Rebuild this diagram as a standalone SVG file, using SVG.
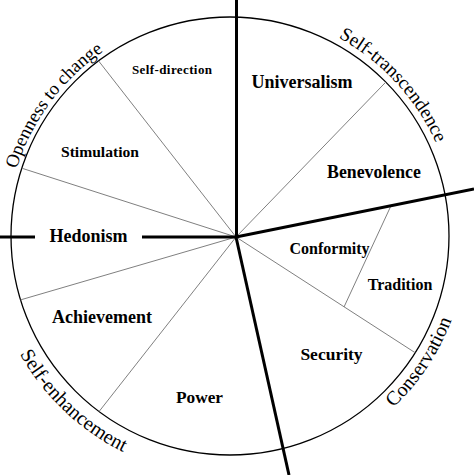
<svg xmlns="http://www.w3.org/2000/svg" width="474" height="475" viewBox="0 0 474 475">
<style>
.lbl{font-family:"Liberation Serif","Times New Roman",serif;font-weight:bold;fill:#000;text-anchor:middle}
.arc{font-family:"Liberation Serif","Times New Roman",serif;fill:#000}
.thin{stroke:#808080;stroke-width:1;fill:none}
.thick{stroke:#000;stroke-width:3;fill:none}
</style>
<defs>
<path id="pOpen" d="M7.69,210.67 A224,224 0 0 1 140.68,30.58"/>
<path id="pTrans" d="M296.83,20.11 A226,226 0 0 1 450.38,185.93"/>
<path id="pCons" d="M335.38,448.28 A237,237 0 0 0 466.53,250.88"/>
<path id="pEnh" d="M-1.08,304.45 A241,241 0 0 0 173.74,470.34"/>
</defs>
<rect width="474" height="475" fill="#fff"/>
<circle cx="230" cy="236" r="219" fill="none" stroke="#000" stroke-width="1.3"/>
<g id="connectors">
<line class="thin" x1="236" y1="237" x2="98.5" y2="60.8"/>
<line class="thin" x1="236" y1="237" x2="21.8" y2="168.2"/>
<line class="thin" x1="236" y1="237" x2="385.8" y2="82.1"/>
<line class="thin" x1="236" y1="237" x2="20.5" y2="299.9"/>
<line class="thin" x1="236" y1="237" x2="99.1" y2="411.5"/>
<line class="thin" x1="236" y1="237" x2="415.3" y2="352.8"/>
<line class="thin" x1="391" y1="205.7" x2="344" y2="307"/>
<line class="thick" x1="236.5" y1="0" x2="236.5" y2="237"/>
<line class="thick" x1="236" y1="237" x2="474" y2="189"/>
<line class="thick" x1="236" y1="237" x2="289" y2="475"/>
<line class="thick" x1="0" y1="237" x2="35" y2="237"/>
<line class="thick" x1="142" y1="237" x2="237" y2="237"/>
</g>
<g id="self-direction"><text class="lbl" x="172" y="74" font-size="13" textLength="80" lengthAdjust="spacing">Self-direction</text></g>
<g id="stimulation"><text class="lbl" x="100" y="157" font-size="15.6">Stimulation</text></g>
<g id="hedonism"><text class="lbl" x="88.5" y="242" font-size="18">Hedonism</text></g>
<g id="universalism"><text class="lbl" x="302" y="88" font-size="18">Universalism</text></g>
<g id="benevolence"><text class="lbl" x="374" y="178" font-size="17.8">Benevolence</text></g>
<g id="conformity"><text class="lbl" x="329.5" y="254" font-size="16">Conformity</text></g>
<g id="tradition"><text class="lbl" x="400" y="290" font-size="16">Tradition</text></g>
<g id="security"><text class="lbl" x="331.5" y="360" font-size="17.5">Security</text></g>
<g id="achievement"><text class="lbl" x="102" y="323" font-size="18">Achievement</text></g>
<g id="power"><text class="lbl" x="199.5" y="403" font-size="17.3">Power</text></g>
<g id="openness"><text class="arc" font-size="18.6"><textPath href="#pOpen" startOffset="50%" text-anchor="middle">Openness to change</textPath></text></g>
<g id="self-transcendence"><text class="arc" font-size="19.2"><textPath href="#pTrans" startOffset="50%" text-anchor="middle">Self-transcendence</textPath></text></g>
<g id="conservation"><text class="arc" font-size="19.9"><textPath href="#pCons" startOffset="50%" text-anchor="middle">Conservation</textPath></text></g>
<g id="self-enhancement"><text class="arc" font-size="20"><textPath href="#pEnh" startOffset="50%" text-anchor="middle">Self-enhancement</textPath></text></g>
</svg>
